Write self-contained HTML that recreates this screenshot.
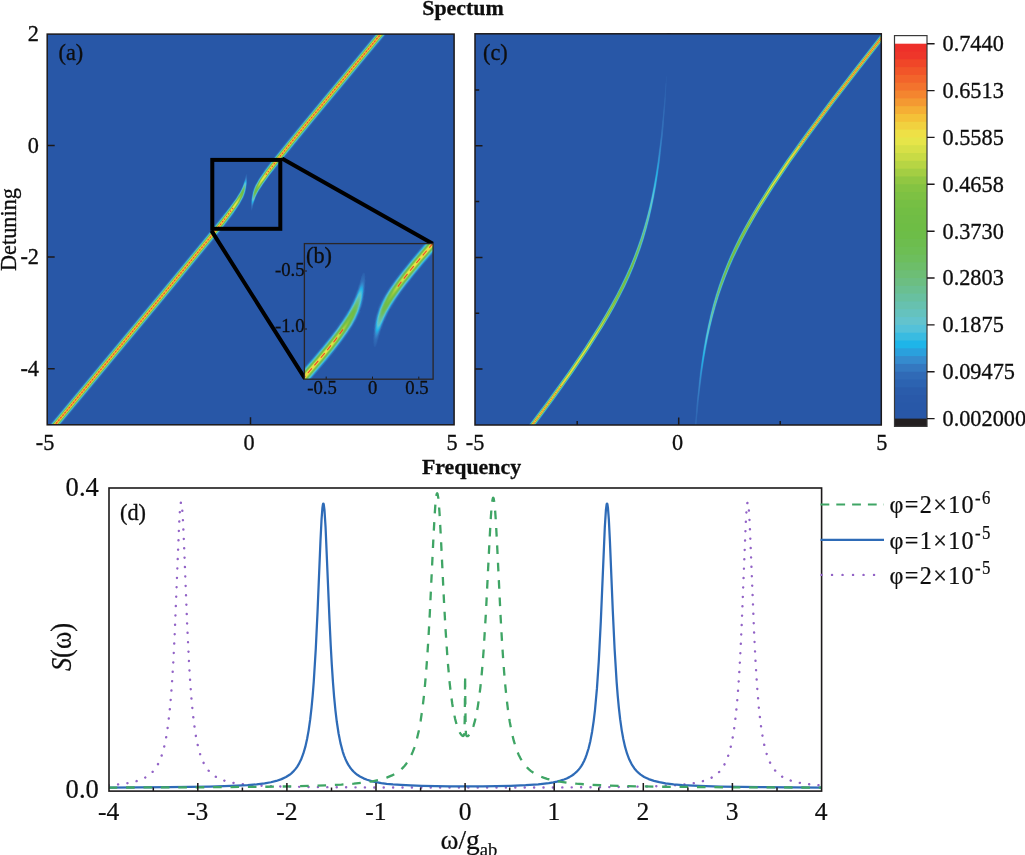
<!DOCTYPE html>
<html><head><meta charset="utf-8"><title>Spectum</title>
<style>html,body{margin:0;padding:0;background:#fff}svg{display:block}text{font-family:"Liberation Serif", "DejaVu Serif", serif;fill:#0e0e0e;stroke:#0e0e0e;stroke-width:.3px}.big{stroke-width:.22px}</style>
</head><body>
<svg width="1025" height="855" viewBox="0 0 1025 855">
<defs>
<clipPath id="ca"><rect x="47.2" y="34.1" width="406.9" height="390.7"/></clipPath>
<clipPath id="cc"><rect x="475" y="33.8" width="406.3" height="391.2"/></clipPath>
<clipPath id="ci"><rect x="304.4" y="243.6" width="128.7" height="135.6"/></clipPath>
<clipPath id="cd"><rect x="109" y="488" width="712.6" height="303.1"/></clipPath>
<linearGradient id="g2" x1="0" y1="0" x2="0" y2="1"><stop offset="0" stop-color="#2857a7"/><stop offset="0.457" stop-color="#2857a7"/><stop offset="0.461" stop-color="#2b5ead"/><stop offset="1" stop-color="#2b60ae"/></linearGradient>
<linearGradient id="g3" x1="0" y1="0" x2="0" y2="1"><stop offset="0" stop-color="#2857a7"/><stop offset="0.405" stop-color="#2857a7"/><stop offset="0.409" stop-color="#2b60ae"/><stop offset="0.477" stop-color="#3476bf"/><stop offset="1" stop-color="#357bc2"/></linearGradient>
<linearGradient id="g4" x1="0" y1="0" x2="0" y2="1"><stop offset="0" stop-color="#2857a7"/><stop offset="0.391" stop-color="#2857a7"/><stop offset="0.395" stop-color="#2c61b0"/><stop offset="0.409" stop-color="#3477c0"/><stop offset="0.417" stop-color="#358ccf"/><stop offset="0.437" stop-color="#21afe5"/><stop offset="0.447" stop-color="#21b6e8"/><stop offset="0.491" stop-color="#33bae3"/><stop offset="0.764" stop-color="#3abbe0"/><stop offset="1" stop-color="#3bbbe0"/></linearGradient>
<linearGradient id="g5" x1="0" y1="0" x2="0" y2="1"><stop offset="0" stop-color="#2857a7"/><stop offset="0.381" stop-color="#2857a7"/><stop offset="0.385" stop-color="#2c61af"/><stop offset="0.395" stop-color="#3374bd"/><stop offset="0.401" stop-color="#338fd1"/><stop offset="0.409" stop-color="#1fb5e9"/><stop offset="0.421" stop-color="#5ac2d7"/><stop offset="0.425" stop-color="#62c4d1"/><stop offset="0.449" stop-color="#66c2b5"/><stop offset="0.507" stop-color="#68c1a6"/><stop offset="1" stop-color="#68c1a1"/></linearGradient>
<linearGradient id="g6" x1="0" y1="0" x2="0" y2="1"><stop offset="0" stop-color="#2857a7"/><stop offset="0.375" stop-color="#2857a7"/><stop offset="0.379" stop-color="#2c62b1"/><stop offset="0.387" stop-color="#3375be"/><stop offset="0.391" stop-color="#358bce"/><stop offset="0.397" stop-color="#1eb3e8"/><stop offset="0.405" stop-color="#61c4d5"/><stop offset="0.421" stop-color="#6ac096"/><stop offset="0.435" stop-color="#6dbe77"/><stop offset="0.465" stop-color="#6dbe60"/><stop offset="0.545" stop-color="#6dbe57"/><stop offset="1" stop-color="#6dbe55"/></linearGradient>
<linearGradient id="g7" x1="0" y1="0" x2="0" y2="1"><stop offset="0" stop-color="#2857a7"/><stop offset="0.369" stop-color="#2857a7"/><stop offset="0.373" stop-color="#2c62b0"/><stop offset="0.379" stop-color="#326db8"/><stop offset="0.385" stop-color="#338fd1"/><stop offset="0.389" stop-color="#22aee5"/><stop offset="0.391" stop-color="#29b8e6"/><stop offset="0.395" stop-color="#54c1d9"/><stop offset="0.397" stop-color="#63c4d0"/><stop offset="0.411" stop-color="#6dbe7a"/><stop offset="0.421" stop-color="#6dbe56"/><stop offset="0.437" stop-color="#6ebd45"/><stop offset="0.607" stop-color="#78c043"/><stop offset="1" stop-color="#79c043"/></linearGradient>
<linearGradient id="g8" x1="0" y1="0" x2="0" y2="1"><stop offset="0" stop-color="#2857a7"/><stop offset="0.365" stop-color="#2857a7"/><stop offset="0.369" stop-color="#2c63b1"/><stop offset="0.375" stop-color="#326eb9"/><stop offset="0.379" stop-color="#3786ca"/><stop offset="0.385" stop-color="#1eb5e9"/><stop offset="0.391" stop-color="#62c4d3"/><stop offset="0.405" stop-color="#6dbe6b"/><stop offset="0.411" stop-color="#6dbe50"/><stop offset="0.417" stop-color="#6ebd45"/><stop offset="0.437" stop-color="#87c441"/><stop offset="0.457" stop-color="#b0d343"/><stop offset="0.485" stop-color="#c5da45"/><stop offset="0.597" stop-color="#d2df47"/><stop offset="1" stop-color="#d5e047"/></linearGradient>
<linearGradient id="g9" x1="0" y1="0" x2="0" y2="1"><stop offset="0" stop-color="#2857a7"/><stop offset="0.361" stop-color="#2857a7"/><stop offset="0.367" stop-color="#2d64b2"/><stop offset="0.373" stop-color="#3372bc"/><stop offset="0.377" stop-color="#358bce"/><stop offset="0.381" stop-color="#23ace4"/><stop offset="0.383" stop-color="#28b7e6"/><stop offset="0.387" stop-color="#5bc2d7"/><stop offset="0.391" stop-color="#65c2ba"/><stop offset="0.401" stop-color="#6dbe68"/><stop offset="0.405" stop-color="#6dbe52"/><stop offset="0.409" stop-color="#6dbd45"/><stop offset="0.419" stop-color="#7fc242"/><stop offset="0.425" stop-color="#9acb42"/><stop offset="0.433" stop-color="#c2d945"/><stop offset="0.449" stop-color="#e9e649"/><stop offset="0.493" stop-color="#f3c93c"/><stop offset="0.609" stop-color="#f5bb37"/><stop offset="1" stop-color="#f5b736"/></linearGradient>
<linearGradient id="g10" x1="0" y1="0" x2="0" y2="1"><stop offset="0" stop-color="#2857a7"/><stop offset="0.361" stop-color="#2857a7"/><stop offset="0.365" stop-color="#2c62b1"/><stop offset="0.371" stop-color="#326eb9"/><stop offset="0.375" stop-color="#3785ca"/><stop offset="0.381" stop-color="#20b6e8"/><stop offset="0.385" stop-color="#52c0da"/><stop offset="0.387" stop-color="#63c4cf"/><stop offset="0.401" stop-color="#6dbe5b"/><stop offset="0.407" stop-color="#6ebd45"/><stop offset="0.415" stop-color="#7ec142"/><stop offset="0.419" stop-color="#91c742"/><stop offset="0.427" stop-color="#c6db45"/><stop offset="0.437" stop-color="#ece84a"/><stop offset="0.455" stop-color="#f4c339"/><stop offset="0.485" stop-color="#f5a434"/><stop offset="0.555" stop-color="#f49231"/><stop offset="1" stop-color="#f48a30"/></linearGradient>
<linearGradient id="g12" x1="0" y1="0" x2="0" y2="1"><stop offset="0" stop-color="#2b60ae"/><stop offset="0.353" stop-color="#2b5ead"/><stop offset="0.357" stop-color="#2857a7"/><stop offset="1" stop-color="#2857a7"/></linearGradient>
<linearGradient id="g13" x1="0" y1="0" x2="0" y2="1"><stop offset="0" stop-color="#357bc2"/><stop offset="0.345" stop-color="#3375be"/><stop offset="0.407" stop-color="#2b5fad"/><stop offset="0.409" stop-color="#2857a7"/><stop offset="1" stop-color="#2857a7"/></linearGradient>
<linearGradient id="g14" x1="0" y1="0" x2="0" y2="1"><stop offset="0" stop-color="#3bbbe0"/><stop offset="0.317" stop-color="#34bae2"/><stop offset="0.365" stop-color="#22b6e7"/><stop offset="0.375" stop-color="#20b1e7"/><stop offset="0.395" stop-color="#3290d2"/><stop offset="0.403" stop-color="#357cc3"/><stop offset="0.415" stop-color="#2e65b3"/><stop offset="0.421" stop-color="#2b5fae"/><stop offset="0.423" stop-color="#2857a7"/><stop offset="1" stop-color="#2857a7"/></linearGradient>
<linearGradient id="g15" x1="0" y1="0" x2="0" y2="1"><stop offset="0" stop-color="#68c1a2"/><stop offset="0.327" stop-color="#67c1a8"/><stop offset="0.371" stop-color="#65c2ba"/><stop offset="0.391" stop-color="#61c4d5"/><stop offset="0.405" stop-color="#1db5e9"/><stop offset="0.415" stop-color="#3684c9"/><stop offset="0.423" stop-color="#2f69b5"/><stop offset="0.435" stop-color="#2857a7"/><stop offset="1" stop-color="#2857a7"/></linearGradient>
<linearGradient id="g16" x1="0" y1="0" x2="0" y2="1"><stop offset="0" stop-color="#6dbe55"/><stop offset="0.331" stop-color="#6dbe5b"/><stop offset="0.373" stop-color="#6dbe70"/><stop offset="0.389" stop-color="#6bbf8b"/><stop offset="0.405" stop-color="#64c3c4"/><stop offset="0.409" stop-color="#5fc3d6"/><stop offset="0.415" stop-color="#2ab8e5"/><stop offset="0.417" stop-color="#1fb2e7"/><stop offset="0.423" stop-color="#368acd"/><stop offset="0.429" stop-color="#316cb8"/><stop offset="0.437" stop-color="#2b60ae"/><stop offset="0.439" stop-color="#2857a7"/><stop offset="1" stop-color="#2857a7"/></linearGradient>
<linearGradient id="g17" x1="0" y1="0" x2="0" y2="1"><stop offset="0" stop-color="#79c043"/><stop offset="0.341" stop-color="#73be44"/><stop offset="0.383" stop-color="#6dbd49"/><stop offset="0.395" stop-color="#6dbe5b"/><stop offset="0.405" stop-color="#6cbf87"/><stop offset="0.417" stop-color="#62c4d2"/><stop offset="0.423" stop-color="#26b7e6"/><stop offset="0.425" stop-color="#23ace4"/><stop offset="0.429" stop-color="#348dd0"/><stop offset="0.435" stop-color="#316db8"/><stop offset="0.447" stop-color="#2857a7"/><stop offset="1" stop-color="#2857a7"/></linearGradient>
<linearGradient id="g18" x1="0" y1="0" x2="0" y2="1"><stop offset="0" stop-color="#d4e047"/><stop offset="0.293" stop-color="#cddd46"/><stop offset="0.345" stop-color="#bcd744"/><stop offset="0.367" stop-color="#9fcd42"/><stop offset="0.381" stop-color="#81c242"/><stop offset="0.397" stop-color="#6ebd45"/><stop offset="0.405" stop-color="#6dbe57"/><stop offset="0.413" stop-color="#6bbf88"/><stop offset="0.423" stop-color="#62c4d4"/><stop offset="0.429" stop-color="#1eb4e8"/><stop offset="0.435" stop-color="#3684c9"/><stop offset="0.439" stop-color="#326eb9"/><stop offset="0.447" stop-color="#2b60ae"/><stop offset="0.449" stop-color="#2857a7"/><stop offset="1" stop-color="#2857a7"/></linearGradient>
<linearGradient id="g19" x1="0" y1="0" x2="0" y2="1"><stop offset="0" stop-color="#f5b836"/><stop offset="0.287" stop-color="#f4c139"/><stop offset="0.343" stop-color="#f1d441"/><stop offset="0.363" stop-color="#ebe74a"/><stop offset="0.379" stop-color="#c8db45"/><stop offset="0.387" stop-color="#a5cf43"/><stop offset="0.393" stop-color="#84c341"/><stop offset="0.401" stop-color="#71be44"/><stop offset="0.405" stop-color="#6dbd45"/><stop offset="0.411" stop-color="#6dbe5c"/><stop offset="0.425" stop-color="#63c3cc"/><stop offset="0.427" stop-color="#58c2d8"/><stop offset="0.431" stop-color="#26b7e6"/><stop offset="0.433" stop-color="#24a9e2"/><stop offset="0.437" stop-color="#3689cd"/><stop offset="0.441" stop-color="#3371bb"/><stop offset="0.455" stop-color="#2857a7"/><stop offset="1" stop-color="#2857a7"/></linearGradient>
<linearGradient id="g20" x1="0" y1="0" x2="0" y2="1"><stop offset="0" stop-color="#f48b30"/><stop offset="0.271" stop-color="#f49331"/><stop offset="0.333" stop-color="#f5a734"/><stop offset="0.363" stop-color="#f3ca3c"/><stop offset="0.377" stop-color="#ebe74a"/><stop offset="0.389" stop-color="#bbd744"/><stop offset="0.397" stop-color="#84c341"/><stop offset="0.403" stop-color="#72be44"/><stop offset="0.409" stop-color="#6dbd4b"/><stop offset="0.413" stop-color="#6dbe5c"/><stop offset="0.427" stop-color="#63c4d1"/><stop offset="0.433" stop-color="#1db5e9"/><stop offset="0.439" stop-color="#3684c9"/><stop offset="0.443" stop-color="#326db9"/><stop offset="0.451" stop-color="#2b60ae"/><stop offset="0.453" stop-color="#2857a7"/><stop offset="1" stop-color="#2857a7"/></linearGradient>
<linearGradient id="g23" x1="0" y1="0" x2="0" y2="1"><stop offset="0" stop-color="#2857a7"/><stop offset="0.494" stop-color="#2857a7"/><stop offset="0.499" stop-color="#2b5ead"/><stop offset="0.787" stop-color="#316db8"/><stop offset="1" stop-color="#3270ba"/></linearGradient>
<linearGradient id="g24" x1="0" y1="0" x2="0" y2="1"><stop offset="0" stop-color="#2857a7"/><stop offset="0.411" stop-color="#2857a7"/><stop offset="0.416" stop-color="#2b5fad"/><stop offset="0.511" stop-color="#3375be"/><stop offset="0.581" stop-color="#3390d2"/><stop offset="0.729" stop-color="#22ade4"/><stop offset="0.925" stop-color="#20b6e8"/><stop offset="1" stop-color="#23b6e7"/></linearGradient>
<linearGradient id="g25" x1="0" y1="0" x2="0" y2="1"><stop offset="0" stop-color="#2857a7"/><stop offset="0.358" stop-color="#2857a7"/><stop offset="0.363" stop-color="#2b5ead"/><stop offset="0.431" stop-color="#3373bc"/><stop offset="0.469" stop-color="#3390d2"/><stop offset="0.516" stop-color="#1eb5e9"/><stop offset="0.591" stop-color="#56c1d9"/><stop offset="0.627" stop-color="#62c4d2"/><stop offset="0.797" stop-color="#65c2bc"/><stop offset="1" stop-color="#66c2b5"/></linearGradient>
<linearGradient id="g26" x1="0" y1="0" x2="0" y2="1"><stop offset="0" stop-color="#2857a7"/><stop offset="0.321" stop-color="#2857a7"/><stop offset="0.326" stop-color="#2b5fad"/><stop offset="0.383" stop-color="#3373bc"/><stop offset="0.414" stop-color="#3390d2"/><stop offset="0.446" stop-color="#1eb5e9"/><stop offset="0.494" stop-color="#62c4d4"/><stop offset="0.586" stop-color="#69c09b"/><stop offset="0.697" stop-color="#6dbe7a"/><stop offset="0.967" stop-color="#6dbe69"/><stop offset="1" stop-color="#6dbe68"/></linearGradient>
<linearGradient id="g27" x1="0" y1="0" x2="0" y2="1"><stop offset="0" stop-color="#2857a7"/><stop offset="0.288" stop-color="#2857a7"/><stop offset="0.293" stop-color="#2b5fad"/><stop offset="0.348" stop-color="#3372bc"/><stop offset="0.373" stop-color="#348dcf"/><stop offset="0.404" stop-color="#1eb5e9"/><stop offset="0.441" stop-color="#62c4d3"/><stop offset="0.534" stop-color="#6dbe77"/><stop offset="0.602" stop-color="#6dbe55"/><stop offset="0.747" stop-color="#6ebd45"/><stop offset="1" stop-color="#70be44"/></linearGradient>
<linearGradient id="g28" x1="0" y1="0" x2="0" y2="1"><stop offset="0" stop-color="#2857a7"/><stop offset="0.263" stop-color="#2857a7"/><stop offset="0.268" stop-color="#2b5fad"/><stop offset="0.323" stop-color="#3372bc"/><stop offset="0.348" stop-color="#338ed1"/><stop offset="0.376" stop-color="#20b6e8"/><stop offset="0.409" stop-color="#62c4d4"/><stop offset="0.489" stop-color="#6dbe6e"/><stop offset="0.524" stop-color="#6dbe53"/><stop offset="0.569" stop-color="#6ebd45"/><stop offset="0.932" stop-color="#9fcd42"/><stop offset="1" stop-color="#a3ce43"/></linearGradient>
<linearGradient id="g29" x1="0" y1="0" x2="0" y2="1"><stop offset="0" stop-color="#2857a7"/><stop offset="0.248" stop-color="#2857a7"/><stop offset="0.253" stop-color="#2b5fad"/><stop offset="0.308" stop-color="#3372bc"/><stop offset="0.333" stop-color="#338fd1"/><stop offset="0.358" stop-color="#1db5e9"/><stop offset="0.391" stop-color="#62c4d3"/><stop offset="0.471" stop-color="#6dbe64"/><stop offset="0.496" stop-color="#6dbe4f"/><stop offset="0.529" stop-color="#6fbd45"/><stop offset="0.607" stop-color="#87c441"/><stop offset="0.677" stop-color="#b7d544"/><stop offset="0.777" stop-color="#d4df47"/><stop offset="1" stop-color="#e9e749"/></linearGradient>
<linearGradient id="g30" x1="0" y1="0" x2="0" y2="1"><stop offset="0" stop-color="#2857a7"/><stop offset="0.243" stop-color="#2857a7"/><stop offset="0.248" stop-color="#2b5fad"/><stop offset="0.301" stop-color="#3371bb"/><stop offset="0.326" stop-color="#338ed0"/><stop offset="0.351" stop-color="#1db4e9"/><stop offset="0.383" stop-color="#62c4d3"/><stop offset="0.464" stop-color="#6dbe5f"/><stop offset="0.504" stop-color="#6ebd45"/><stop offset="0.549" stop-color="#7bc043"/><stop offset="0.581" stop-color="#8ec641"/><stop offset="0.639" stop-color="#c2d945"/><stop offset="0.742" stop-color="#eae74a"/><stop offset="0.987" stop-color="#f2cd3e"/><stop offset="1" stop-color="#f2cc3d"/></linearGradient>
<linearGradient id="g33" x1="0" y1="0" x2="0" y2="1"><stop offset="0" stop-color="#3270ba"/><stop offset="0.414" stop-color="#2d64b2"/><stop offset="0.479" stop-color="#2b5ead"/><stop offset="0.484" stop-color="#2857a7"/><stop offset="1" stop-color="#2857a7"/></linearGradient>
<linearGradient id="g34" x1="0" y1="0" x2="0" y2="1"><stop offset="0" stop-color="#22b6e8"/><stop offset="0.218" stop-color="#20afe6"/><stop offset="0.361" stop-color="#2e99d9"/><stop offset="0.441" stop-color="#357fc5"/><stop offset="0.506" stop-color="#2f68b5"/><stop offset="0.561" stop-color="#2b5ead"/><stop offset="0.566" stop-color="#2857a7"/><stop offset="1" stop-color="#2857a7"/></linearGradient>
<linearGradient id="g35" x1="0" y1="0" x2="0" y2="1"><stop offset="0" stop-color="#66c2b6"/><stop offset="0.271" stop-color="#64c3c4"/><stop offset="0.368" stop-color="#5ec3d6"/><stop offset="0.449" stop-color="#28b7e6"/><stop offset="0.464" stop-color="#1eb3e8"/><stop offset="0.526" stop-color="#3680c6"/><stop offset="0.564" stop-color="#306ab6"/><stop offset="0.614" stop-color="#2b5ead"/><stop offset="0.619" stop-color="#2857a7"/><stop offset="1" stop-color="#2857a7"/></linearGradient>
<linearGradient id="g36" x1="0" y1="0" x2="0" y2="1"><stop offset="0" stop-color="#6dbe69"/><stop offset="0.263" stop-color="#6dbe78"/><stop offset="0.376" stop-color="#6ac096"/><stop offset="0.464" stop-color="#64c3c7"/><stop offset="0.486" stop-color="#5dc3d6"/><stop offset="0.531" stop-color="#1eb4e8"/><stop offset="0.574" stop-color="#3683c8"/><stop offset="0.604" stop-color="#316cb7"/><stop offset="0.654" stop-color="#2b5ead"/><stop offset="0.659" stop-color="#2857a7"/><stop offset="1" stop-color="#2857a7"/></linearGradient>
<linearGradient id="g37" x1="0" y1="0" x2="0" y2="1"><stop offset="0" stop-color="#70be44"/><stop offset="0.298" stop-color="#6dbd49"/><stop offset="0.398" stop-color="#6dbe5e"/><stop offset="0.461" stop-color="#6bbf88"/><stop offset="0.536" stop-color="#61c4d5"/><stop offset="0.574" stop-color="#1eb3e8"/><stop offset="0.609" stop-color="#3785c9"/><stop offset="0.639" stop-color="#316bb7"/><stop offset="0.684" stop-color="#2b5ead"/><stop offset="0.689" stop-color="#2857a7"/><stop offset="1" stop-color="#2857a7"/></linearGradient>
<linearGradient id="g38" x1="0" y1="0" x2="0" y2="1"><stop offset="0" stop-color="#a2ce42"/><stop offset="0.198" stop-color="#8cc641"/><stop offset="0.426" stop-color="#6dbd48"/><stop offset="0.471" stop-color="#6dbe5f"/><stop offset="0.524" stop-color="#69c09b"/><stop offset="0.569" stop-color="#60c4d6"/><stop offset="0.602" stop-color="#1eb4e8"/><stop offset="0.634" stop-color="#3786ca"/><stop offset="0.662" stop-color="#316cb8"/><stop offset="0.709" stop-color="#2b5ead"/><stop offset="0.714" stop-color="#2857a7"/><stop offset="1" stop-color="#2857a7"/></linearGradient>
<linearGradient id="g39" x1="0" y1="0" x2="0" y2="1"><stop offset="0" stop-color="#e8e649"/><stop offset="0.208" stop-color="#d2df47"/><stop offset="0.303" stop-color="#b5d543"/><stop offset="0.378" stop-color="#84c341"/><stop offset="0.446" stop-color="#6fbd45"/><stop offset="0.481" stop-color="#6dbe50"/><stop offset="0.511" stop-color="#6dbe6c"/><stop offset="0.586" stop-color="#61c4d5"/><stop offset="0.617" stop-color="#1eb5e9"/><stop offset="0.649" stop-color="#3786ca"/><stop offset="0.677" stop-color="#316cb8"/><stop offset="0.724" stop-color="#2b5ead"/><stop offset="0.729" stop-color="#2857a7"/><stop offset="1" stop-color="#2857a7"/></linearGradient>
<linearGradient id="g40" x1="0" y1="0" x2="0" y2="1"><stop offset="0" stop-color="#f2ce3e"/><stop offset="0.195" stop-color="#eee348"/><stop offset="0.248" stop-color="#e6e649"/><stop offset="0.338" stop-color="#c1d944"/><stop offset="0.396" stop-color="#8bc641"/><stop offset="0.456" stop-color="#70be44"/><stop offset="0.489" stop-color="#6dbd4d"/><stop offset="0.519" stop-color="#6dbe68"/><stop offset="0.594" stop-color="#61c4d5"/><stop offset="0.624" stop-color="#1db5e9"/><stop offset="0.657" stop-color="#3785ca"/><stop offset="0.684" stop-color="#316cb7"/><stop offset="0.732" stop-color="#2b5ead"/><stop offset="0.737" stop-color="#2857a7"/><stop offset="1" stop-color="#2857a7"/></linearGradient>
<linearGradient id="g42" x1="0" y1="0" x2="0" y2="1"><stop offset="0" stop-color="#2857a7"/><stop offset="0.886" stop-color="#2857a7"/><stop offset="0.89" stop-color="#2b5ead"/><stop offset="1" stop-color="#2b5fae"/></linearGradient>
<linearGradient id="g43" x1="0" y1="0" x2="0" y2="1"><stop offset="0" stop-color="#2857a7"/><stop offset="0.581" stop-color="#2857a7"/><stop offset="0.585" stop-color="#2b5ead"/><stop offset="1" stop-color="#3479c1"/></linearGradient>
<linearGradient id="g44" x1="0" y1="0" x2="0" y2="1"><stop offset="0" stop-color="#2857a7"/><stop offset="0.463" stop-color="#2857a7"/><stop offset="0.467" stop-color="#2b5ead"/><stop offset="0.603" stop-color="#3375be"/><stop offset="0.679" stop-color="#3390d2"/><stop offset="0.826" stop-color="#1eb5e9"/><stop offset="1" stop-color="#36bae2"/></linearGradient>
<linearGradient id="g45" x1="0" y1="0" x2="0" y2="1"><stop offset="0" stop-color="#2857a7"/><stop offset="0.375" stop-color="#2857a7"/><stop offset="0.379" stop-color="#2b5ead"/><stop offset="0.493" stop-color="#3373bd"/><stop offset="0.547" stop-color="#3390d2"/><stop offset="0.609" stop-color="#1fb5e8"/><stop offset="0.711" stop-color="#62c4d4"/><stop offset="0.87" stop-color="#66c2b2"/><stop offset="1" stop-color="#68c1a5"/></linearGradient>
<linearGradient id="g46" x1="0" y1="0" x2="0" y2="1"><stop offset="0" stop-color="#2857a7"/><stop offset="0.297" stop-color="#2857a7"/><stop offset="0.301" stop-color="#2b5ead"/><stop offset="0.417" stop-color="#3373bd"/><stop offset="0.465" stop-color="#3390d1"/><stop offset="0.515" stop-color="#1eb5e9"/><stop offset="0.581" stop-color="#62c4d4"/><stop offset="0.721" stop-color="#6bbf8a"/><stop offset="0.834" stop-color="#6dbe6b"/><stop offset="1" stop-color="#6dbe57"/></linearGradient>
<linearGradient id="g47" x1="0" y1="0" x2="0" y2="1"><stop offset="0" stop-color="#2857a7"/><stop offset="0.228" stop-color="#2857a7"/><stop offset="0.232" stop-color="#2b5ead"/><stop offset="0.351" stop-color="#3372bc"/><stop offset="0.401" stop-color="#338fd1"/><stop offset="0.451" stop-color="#20b6e8"/><stop offset="0.507" stop-color="#62c4d4"/><stop offset="0.645" stop-color="#6dbe6e"/><stop offset="0.709" stop-color="#6dbe52"/><stop offset="0.804" stop-color="#6ebd45"/><stop offset="1" stop-color="#76bf44"/></linearGradient>
<linearGradient id="g48" x1="0" y1="0" x2="0" y2="1"><stop offset="0" stop-color="#2857a7"/><stop offset="0.172" stop-color="#2857a7"/><stop offset="0.176" stop-color="#2b5ead"/><stop offset="0.303" stop-color="#3372bc"/><stop offset="0.353" stop-color="#338fd1"/><stop offset="0.403" stop-color="#20b6e8"/><stop offset="0.457" stop-color="#62c4d4"/><stop offset="0.601" stop-color="#6dbe59"/><stop offset="0.667" stop-color="#6ebd45"/><stop offset="0.756" stop-color="#7ec142"/><stop offset="0.812" stop-color="#91c842"/><stop offset="0.922" stop-color="#bed844"/><stop offset="1" stop-color="#ccdd46"/></linearGradient>
<linearGradient id="g49" x1="0" y1="0" x2="0" y2="1"><stop offset="0" stop-color="#2857a7"/><stop offset="0.136" stop-color="#2857a7"/><stop offset="0.14" stop-color="#2b5ead"/><stop offset="0.271" stop-color="#3372bc"/><stop offset="0.323" stop-color="#338fd1"/><stop offset="0.373" stop-color="#1fb6e8"/><stop offset="0.429" stop-color="#62c4d3"/><stop offset="0.567" stop-color="#6dbe57"/><stop offset="0.617" stop-color="#6ebd45"/><stop offset="0.675" stop-color="#7dc143"/><stop offset="0.709" stop-color="#8fc741"/><stop offset="0.774" stop-color="#c5da45"/><stop offset="0.864" stop-color="#ede749"/><stop offset="0.998" stop-color="#f4c339"/><stop offset="1" stop-color="#f4c339"/></linearGradient>
<linearGradient id="g50" x1="0" y1="0" x2="0" y2="1"><stop offset="0" stop-color="#2857a7"/><stop offset="0.118" stop-color="#2857a7"/><stop offset="0.122" stop-color="#2b5ead"/><stop offset="0.257" stop-color="#3372bc"/><stop offset="0.309" stop-color="#338fd1"/><stop offset="0.359" stop-color="#1eb5e9"/><stop offset="0.415" stop-color="#62c4d3"/><stop offset="0.511" stop-color="#6dbe79"/><stop offset="0.561" stop-color="#6dbe52"/><stop offset="0.601" stop-color="#6fbd45"/><stop offset="0.651" stop-color="#7dc142"/><stop offset="0.679" stop-color="#8ec741"/><stop offset="0.735" stop-color="#c8db45"/><stop offset="0.798" stop-color="#ede649"/><stop offset="0.92" stop-color="#f5b035"/><stop offset="1" stop-color="#f49832"/></linearGradient>
<linearGradient id="g52" x1="0" y1="0" x2="0" y2="1"><stop offset="0" stop-color="#2b60ae"/><stop offset="0.295" stop-color="#2b5ead"/><stop offset="0.299" stop-color="#2857a7"/><stop offset="1" stop-color="#2857a7"/></linearGradient>
<linearGradient id="g53" x1="0" y1="0" x2="0" y2="1"><stop offset="0" stop-color="#357dc4"/><stop offset="0.365" stop-color="#326eb9"/><stop offset="0.599" stop-color="#2b5ead"/><stop offset="0.603" stop-color="#2857a7"/><stop offset="1" stop-color="#2857a7"/></linearGradient>
<linearGradient id="g54" x1="0" y1="0" x2="0" y2="1"><stop offset="0" stop-color="#40bddf"/><stop offset="0.271" stop-color="#2db8e4"/><stop offset="0.373" stop-color="#1eb3e8"/><stop offset="0.525" stop-color="#3688cc"/><stop offset="0.623" stop-color="#306ab6"/><stop offset="0.717" stop-color="#2b5ead"/><stop offset="0.721" stop-color="#2857a7"/><stop offset="1" stop-color="#2857a7"/></linearGradient>
<linearGradient id="g55" x1="0" y1="0" x2="0" y2="1"><stop offset="0" stop-color="#69c09d"/><stop offset="0.293" stop-color="#67c1af"/><stop offset="0.457" stop-color="#63c4d0"/><stop offset="0.489" stop-color="#59c2d8"/><stop offset="0.579" stop-color="#1eb3e8"/><stop offset="0.657" stop-color="#3683c8"/><stop offset="0.715" stop-color="#306bb7"/><stop offset="0.806" stop-color="#2b5ead"/><stop offset="0.81" stop-color="#2857a7"/><stop offset="1" stop-color="#2857a7"/></linearGradient>
<linearGradient id="g56" x1="0" y1="0" x2="0" y2="1"><stop offset="0" stop-color="#6dbe53"/><stop offset="0.263" stop-color="#6dbe5e"/><stop offset="0.425" stop-color="#6dbe7d"/><stop offset="0.547" stop-color="#66c2b4"/><stop offset="0.607" stop-color="#5ec3d6"/><stop offset="0.669" stop-color="#1db4e9"/><stop offset="0.733" stop-color="#3785ca"/><stop offset="0.79" stop-color="#316bb7"/><stop offset="0.884" stop-color="#2b5ead"/><stop offset="0.888" stop-color="#2857a7"/><stop offset="1" stop-color="#2857a7"/></linearGradient>
<linearGradient id="g57" x1="0" y1="0" x2="0" y2="1"><stop offset="0" stop-color="#7dc142"/><stop offset="0.429" stop-color="#6dbd49"/><stop offset="0.511" stop-color="#6dbe60"/><stop offset="0.587" stop-color="#6abf90"/><stop offset="0.679" stop-color="#5fc3d6"/><stop offset="0.735" stop-color="#1eb4e8"/><stop offset="0.798" stop-color="#3684c9"/><stop offset="0.854" stop-color="#316bb7"/><stop offset="0.952" stop-color="#2b5ead"/><stop offset="0.956" stop-color="#2857a7"/><stop offset="1" stop-color="#2857a7"/></linearGradient>
<linearGradient id="g58" x1="0" y1="0" x2="0" y2="1"><stop offset="0" stop-color="#dfe348"/><stop offset="0.226" stop-color="#c5da45"/><stop offset="0.337" stop-color="#a2ce42"/><stop offset="0.403" stop-color="#84c341"/><stop offset="0.501" stop-color="#70bd45"/><stop offset="0.547" stop-color="#6dbd4c"/><stop offset="0.595" stop-color="#6dbe64"/><stop offset="0.729" stop-color="#5fc3d6"/><stop offset="0.784" stop-color="#1eb4e8"/><stop offset="0.846" stop-color="#3785c9"/><stop offset="0.9" stop-color="#316cb8"/><stop offset="1" stop-color="#2b5fad"/></linearGradient>
<linearGradient id="g59" x1="0" y1="0" x2="0" y2="1"><stop offset="0" stop-color="#f5a834"/><stop offset="0.228" stop-color="#f2cc3d"/><stop offset="0.333" stop-color="#e9e74a"/><stop offset="0.427" stop-color="#b9d644"/><stop offset="0.489" stop-color="#84c341"/><stop offset="0.551" stop-color="#70be44"/><stop offset="0.591" stop-color="#6dbd4c"/><stop offset="0.631" stop-color="#6dbe63"/><stop offset="0.758" stop-color="#61c4d5"/><stop offset="0.812" stop-color="#1db5e9"/><stop offset="0.876" stop-color="#3785c9"/><stop offset="0.932" stop-color="#316cb8"/><stop offset="1" stop-color="#2c62b0"/></linearGradient>
<linearGradient id="g60" x1="0" y1="0" x2="0" y2="1"><stop offset="0" stop-color="#f47a2e"/><stop offset="0.188" stop-color="#f49932"/><stop offset="0.333" stop-color="#f2cc3d"/><stop offset="0.395" stop-color="#eae74a"/><stop offset="0.469" stop-color="#b5d543"/><stop offset="0.515" stop-color="#84c341"/><stop offset="0.573" stop-color="#70be44"/><stop offset="0.613" stop-color="#6dbd4e"/><stop offset="0.649" stop-color="#6dbe66"/><stop offset="0.772" stop-color="#5fc3d6"/><stop offset="0.826" stop-color="#1db4e9"/><stop offset="0.888" stop-color="#3786ca"/><stop offset="0.946" stop-color="#316cb8"/><stop offset="1" stop-color="#2d64b2"/></linearGradient>
</defs>
<rect x="47.2" y="34.1" width="406.9" height="390.7" fill="#2857a7" stroke="none" stroke-width="0"/>
<g clip-path="url(#ca)">
<polygon fill="url(#g2)" points="246.7,28.1 246.3,116.9 246,141.1 245.5,157.2 244.8,168.5 243.6,177.4 242.1,183.9 240.9,187.1 239.5,190.3 235.7,196.8 229.5,205.6 220.1,217.7 206.5,234.7 156,296 44.1,430.8 56,430.8 164.5,300.1 212.9,241.2 225.8,225 234.4,213.7 240.5,204.8 244.1,198.4 245.5,195.2 246.6,191.9 248,185.5 249,176.6 249.7,164.5 250.2,146.7 250.5,120.9 250.9,28.1"/>
<polygon fill="url(#g3)" points="247.1,28.1 246.7,116.9 246.3,141.1 245.8,158 245.1,169.3 243.9,178.2 242.3,184.7 241.2,187.9 239.7,191.1 236,197.6 229.7,206.5 220.4,218.6 206.8,235.5 156.3,296.8 45.1,430.8 55,430.8 163.5,300.1 212,241.2 224.9,225 233.5,213.7 239.7,204.8 243.4,198.4 244.8,195.2 246,191.9 247.5,185.5 248.6,176.6 249.3,164.5 249.8,146.7 250.2,121.7 250.5,28.1"/>
<polygon fill="url(#g4)" points="247.3,28.1 246.9,117.7 246.6,141.9 246.1,158.8 245.3,170.1 244.1,179 242.5,185.5 241.3,188.7 239.8,191.9 236.1,198.4 229.9,207.3 220.5,219.4 206.9,236.3 157.1,296.8 45.9,430.8 54.2,430.8 163.4,299.3 211.9,240.3 224.8,224.2 233.4,212.9 239.5,204 243.1,197.6 244.6,194.3 245.7,191.1 247.2,184.7 248.3,175.8 249.1,163.7 249.6,145.9 249.9,120.9 250.3,28.1"/>
<polygon fill="url(#g5)" points="247.6,28.1 247.2,117.7 246.8,141.9 246.3,158.8 245.6,170.1 244.4,179 242.8,185.5 241.7,188.7 240.3,191.9 236.6,198.4 230.4,207.3 221.8,218.6 208.2,235.5 158.4,296 46.5,430.8 53.6,430.8 163.4,298.4 211.9,239.5 224.8,223.4 233.4,212.1 239.4,203.2 243,196.8 244.4,193.5 245.5,190.3 247,183.9 248.1,175 248.9,162.9 249.3,145.1 249.7,120.1 250,28.1"/>
<polygon fill="url(#g6)" points="247.8,28.1 247.4,118.5 247.1,142.7 246.5,159.6 245.8,170.9 244.6,179.8 242.9,186.3 241.8,189.5 240.3,192.7 236.6,199.2 230.4,208.1 221.8,219.4 208.2,236.3 158.4,296.8 47.2,430.8 52.9,430.8 162.8,298.4 211.2,239.5 224.1,223.4 232.8,212.1 238.9,203.2 242.5,196.8 244,193.5 245.1,190.3 246.7,183.9 247.8,175 248.6,162.9 249.1,145.9 249.4,120.9 249.8,28.1"/>
<polygon fill="url(#g7)" points="248,28.1 247.6,118.5 247.3,142.7 246.7,159.6 246,170.9 244.8,179.8 243.3,186.3 242.1,189.5 240.7,192.7 237,199.2 230.9,208.1 222.3,219.4 208.7,236.3 159,296.8 47.7,430.8 52.4,430.8 161.6,299.3 210.7,239.5 223.6,223.4 232.2,212.1 238.4,203.2 242.1,196.8 243.6,193.5 244.8,190.3 246.4,183.9 247.6,175 248.4,162.9 248.9,145.9 249.2,120.9 249.6,28.1"/>
<polygon fill="url(#g8)" points="248.2,28.1 247.8,119.3 247.4,143.5 246.9,160.5 246.2,171.7 245,180.6 243.3,187.1 242.1,190.3 240.7,193.5 237,200 230.8,208.9 222.2,220.2 208.6,237.1 158.8,297.6 48.3,430.8 51.8,430.8 161.7,298.4 210.8,238.7 223.7,222.6 232.3,211.3 238.4,202.4 242.1,196 243.5,192.7 244.7,189.5 246.3,183 247.4,174.2 248.2,162.1 248.7,145.1 249,120.1 249.4,28.1"/>
<polygon fill="url(#g9)" points="248.4,28.1 248,119.3 247.7,143.5 247.1,160.5 246.4,171.7 245.2,180.6 243.6,187.1 242.5,190.3 241.1,193.5 237.4,200 231.4,208.9 222.7,220.2 209.8,236.3 160.7,296 48.8,430.8 51.2,430.8 161.1,298.4 210.2,238.7 223.2,222.6 231.8,211.3 237.9,202.4 241.6,196 243.1,192.7 244.3,189.5 246,183 247.2,174.2 248,162.1 248.5,145.1 248.8,120.1 249.2,28.1"/>
<polygon fill="url(#g10)" points="248.6,28.1 248.2,119.3 247.9,143.5 247.4,160.5 246.6,172.6 245.4,181.4 243.7,187.9 242.5,191.1 241.1,194.3 237.4,200.8 231.3,209.7 222.7,221 209.1,237.9 160,297.6 49.4,430.8 50.7,430.8 161.2,297.6 210.3,237.9 223.3,221.8 231.9,210.5 238,201.6 241.6,195.2 243.1,191.9 244.2,188.7 245.8,182.2 247,173.4 247.8,161.3 248.3,144.3 248.6,119.3 249,28.1"/>
<path d="M233 208.1L227 216.1L218.8 226.6L192.6 258.9L143.2 318.6L50 430.8" fill="none" stroke="#ee4a2a" stroke-width="1.3" stroke-dasharray="1.2 2.1"/>
<polygon fill="url(#g12)" points="379.8,28.1 306.3,116.9 286.5,141.1 273.6,157.2 264.9,168.5 258.6,177.4 254.8,183.9 253.3,187.1 252,190.3 250.4,196.8 249.3,205.6 248.5,217.7 248,234.7 247.5,296 247.2,430.8 251.4,430.8 251.7,300.1 252.3,241.2 252.8,225 253.6,213.7 254.9,204.8 256.6,198.4 257.9,195.2 259.5,191.9 263.5,185.5 269.9,176.6 279.3,164.5 314.7,120.9 391.6,28.1"/>
<polygon fill="url(#g13)" points="380.8,28.1 307.3,116.9 287.4,141.1 273.9,158 265.2,169.3 259,178.2 255.2,184.7 253.7,187.9 252.4,191.1 250.8,197.6 249.6,206.5 248.9,218.6 248.4,235.5 247.8,296.8 247.6,430.8 251,430.8 251.3,300.1 251.9,241.2 252.4,225 253.2,213.7 254.4,204.8 256.1,198.4 257.3,195.2 258.9,191.9 262.7,185.5 269,176.6 278.3,164.5 292.6,146.7 313.1,121.7 390.7,28.1"/>
<polygon fill="url(#g14)" points="381.6,28.1 307.4,117.7 287.6,141.9 274,158.8 265.4,170.1 259.2,179 255.4,185.5 253.9,188.7 252.7,191.9 251.1,198.4 249.9,207.3 249.2,219.4 248.7,236.3 248.1,296.8 247.9,430.8 250.8,430.8 251,299.3 251.6,240.3 252.2,224.2 252.9,212.9 254.2,204 255.9,197.6 257.2,194.3 258.7,191.1 262.6,184.7 268.9,175.8 278.2,163.7 292.5,145.9 313,120.9 389.9,28.1"/>
<polygon fill="url(#g15)" points="382.2,28.1 308,117.7 288.2,141.9 274.6,158.8 266,170.1 259.7,179 255.9,185.5 254.4,188.7 253.2,191.9 251.5,198.4 250.2,207.3 249.5,218.6 248.9,235.5 248.3,296 248.1,430.8 250.5,430.8 250.8,298.4 251.4,239.5 251.9,223.4 252.8,212.1 254.1,203.2 255.9,196.8 257.2,193.5 258.7,190.3 262.6,183.9 268.9,175 278.2,162.9 292.5,145.1 313,120.1 389.2,28.1"/>
<polygon fill="url(#g16)" points="382.8,28.1 308,118.5 288.2,142.7 274.6,159.6 266,170.9 259.8,179.8 256,186.3 254.5,189.5 253.3,192.7 251.6,199.2 250.4,208.1 249.7,219.4 249.1,236.3 248.6,296.8 248.3,430.8 250.3,430.8 250.6,298.4 251.2,239.5 251.7,223.4 252.5,212.1 253.8,203.2 255.5,196.8 256.7,193.5 258.3,190.3 262.1,183.9 268.3,175 277.6,162.9 291.2,145.9 311.7,120.9 388.6,28.1"/>
<polygon fill="url(#g17)" points="383.4,28.1 308.6,118.5 288.7,142.7 275.2,159.6 266.5,170.9 260.3,179.8 256.5,186.3 254.9,189.5 253.7,192.7 251.9,199.2 250.7,208.1 249.9,219.4 249.3,236.3 248.8,296.8 248.5,430.8 250.1,430.8 250.4,299.3 251,239.5 251.5,223.4 252.3,212.1 253.5,203.2 255.2,196.8 256.4,193.5 257.9,190.3 261.6,183.9 267.8,175 277.1,162.9 290.7,145.9 311.2,120.9 388,28.1"/>
<polygon fill="url(#g18)" points="384,28.1 308.4,119.3 288.6,143.5 275.1,160.5 266.4,171.7 260.2,180.6 256.5,187.1 255,190.3 253.8,193.5 252.1,200 250.8,208.9 250.1,220.2 249.5,237.1 248.9,297.6 248.7,430.8 249.9,430.8 250.2,298.4 250.8,238.7 251.3,222.6 252.1,211.3 253.4,202.4 255.1,196 256.4,192.7 257.9,189.5 261.7,183 267.9,174.2 277.2,162.1 290.8,145.1 311.3,120.1 387.5,28.1"/>
<polygon fill="url(#g19)" points="384.5,28.1 309,119.3 289.2,143.5 275.6,160.5 266.9,171.7 260.7,180.6 256.9,187.1 255.4,190.3 254.1,193.5 252.4,200 251.1,208.9 250.3,220.2 249.8,236.3 249.2,296 248.9,430.8 249.7,430.8 250,298.4 250.6,238.7 251.1,222.6 251.9,211.3 253.1,202.4 254.8,196 256,192.7 257.5,189.5 261.2,183 267.4,174.2 276.6,162.1 290.2,145.1 310.7,120.1 386.9,28.1"/>
<polygon fill="url(#g20)" points="385.1,28.1 309.6,119.3 289.7,143.5 276.1,160.5 266.9,172.6 260.7,181.4 256.9,187.9 255.4,191.1 254.2,194.3 252.5,200.8 251.2,209.7 250.5,221 249.9,237.9 249.3,297.6 249.1,430.8 249.5,430.8 249.8,297.6 250.4,237.9 250.9,221.8 251.7,210.5 253,201.6 254.7,195.2 256,191.9 257.5,188.7 261.2,182.2 267.4,173.4 276.7,161.3 290.3,144.3 310.8,119.3 386.4,28.1"/>
<path d="M385.7 28.1L328.8 96.7L295.6 137L276.1 161.3L269.9 169.3L265.1 175.8" fill="none" stroke="#ee4a2a" stroke-width="1.3" stroke-dasharray="1.2 2.1"/>
</g>
<path d="M47.2 145.4h7.5M47.2 257.1h7.5M47.2 368.8h7.5M250.5 424.8v-7.5" stroke="#1c191a" stroke-width="1.5" fill="none"/>
<rect x="47.2" y="34.1" width="406.9" height="390.7" fill="none" stroke="#1c191a" stroke-width="1.5"/>
<text transform="translate(39 40.8) scale(1 1.075)" font-size="22.3" text-anchor="end">2</text>
<text transform="translate(39 152.5) scale(1 1.075)" font-size="22.3" text-anchor="end">0</text>
<text transform="translate(39 264.2) scale(1 1.075)" font-size="22.3" text-anchor="end">-2</text>
<text transform="translate(39 375.9) scale(1 1.075)" font-size="22.3" text-anchor="end">-4</text>
<text transform="translate(45 450) scale(1 1.075)" font-size="22.3" text-anchor="middle">-5</text>
<text transform="translate(249 450) scale(1 1.075)" font-size="22.3" text-anchor="middle">0</text>
<text transform="translate(452 450) scale(1 1.075)" font-size="22.3" text-anchor="middle">5</text>
<text transform="translate(58.5 59.5) scale(1 1.075)" font-size="22.3" text-anchor="start">(a)</text>
<path d="M282 158.5L432.8 243.8M211.4 230.6L305 378.6" stroke="#000" stroke-width="4" fill="none"/>
<rect x="212.3" y="159.9" width="68" height="68.9" fill="none" stroke="#000" stroke-width="4"/>
<rect x="304.4" y="243.6" width="128.7" height="135.6" fill="#2857a7" stroke="none" stroke-width="0"/>
<g clip-path="url(#ci)">
<polygon fill="url(#g23)" points="360.9,235.6 360.2,249.7 359.4,261.4 358.3,271.7 357,280.4 355.5,288 353.7,294.9 351.4,301.3 348.6,307.8 345.1,314.2 340.9,321.1 335.7,328.7 329.4,337 321.9,346.5 312.4,357.9 287.1,387.2 304.2,387.2 327.3,360.2 335.7,350 342.7,340.8 348.5,332.9 353.3,325.6 357,319.2 360.2,312.7 362.8,306.3 364.9,299.8 366.6,292.6 368.1,284.2 369.2,275.1 370.2,264.1 371,251.2 371.6,235.6"/>
<polygon fill="url(#g24)" points="361.8,235.6 361.1,249.7 360.2,261.4 359.2,271.7 358,280.4 356.5,288 354.5,295.3 352.3,301.7 349.5,308.2 346.1,314.6 341.9,321.5 337,328.7 330.7,337 323.2,346.5 313.7,357.9 288.5,387.2 302.8,387.2 325.9,360.2 334.6,349.6 341.7,340.5 347.5,332.5 352.3,325.3 356.1,318.8 359.3,312.3 361.9,305.9 364,299.1 365.8,291.8 367.2,283.9 368.3,274.7 369.3,263.7 370.1,250.8 370.8,235.6"/>
<polygon fill="url(#g25)" points="362.5,235.6 361.8,249.7 360.9,261.8 359.9,272.1 358.6,280.8 357.1,288.4 355.2,295.6 353,302.1 350.2,308.6 346.8,315 342.6,321.8 337.7,329.1 331.5,337.4 323.9,346.9 314.5,358.3 289.6,387.2 301.7,387.2 325.2,359.8 333.9,349.2 341,340.1 346.8,332.1 351.5,324.9 355.3,318.4 358.5,312 361.1,305.5 363.3,298.7 365.1,291.5 366.5,283.5 367.6,274.4 368.6,263.3 369.4,250.8 370.1,235.6"/>
<polygon fill="url(#g26)" points="363.2,235.6 362.5,250 361.6,262.2 360.6,272.5 359.3,281.2 357.8,288.8 355.9,296 353.7,302.5 350.9,308.9 347.5,315.4 343.4,322.2 338.4,329.4 332.2,337.8 324.7,347.3 315.6,358.3 290.7,387.2 300.6,387.2 324.1,359.8 332.8,349.2 339.9,340.1 345.7,332.1 350.5,324.9 354.6,318 357.8,311.6 360.4,305.1 362.6,298.3 364.4,291.1 365.8,283.1 366.9,274 367.9,263.3 368.7,250.8 369.4,235.6"/>
<polygon fill="url(#g27)" points="363.8,235.6 363.1,250 362.2,262.2 361.2,272.5 360,281.2 358.5,288.8 356.6,296 354.3,302.9 351.5,309.3 348.1,315.8 344,322.6 339.1,329.8 332.8,338.2 325.3,347.7 316.2,358.7 291.6,387.2 299.6,387.2 323.4,359.5 332.2,348.8 339.3,339.7 345.1,331.7 349.9,324.5 353.9,317.7 357.2,311.2 359.8,304.8 362,297.9 363.7,290.7 365.2,282.7 366.4,273.6 367.3,263 368.1,250.4 368.8,235.6"/>
<polygon fill="url(#g28)" points="364.4,235.6 363.7,250 362.8,262.2 361.8,272.5 360.6,281.2 359.1,289.2 357.2,296.4 355,302.9 352.3,309.3 349,315.8 344.8,322.6 339.9,329.8 333.8,338.2 326.3,347.7 317.2,358.7 292.6,387.2 298.7,387.2 322.5,359.5 331.2,348.8 338.4,339.7 344.2,331.7 349,324.5 353.1,317.7 356.4,311.2 359,304.8 361.3,297.9 363.1,290.7 364.5,282.7 365.7,273.6 366.7,263 367.5,250.4 368.2,235.6"/>
<polygon fill="url(#g29)" points="365,235.6 364.3,250 363.5,262.2 362.5,272.5 361.2,281.6 359.7,289.6 357.8,296.8 355.6,303.2 352.9,309.7 349.6,316.1 345.5,323 340.6,330.2 334.4,338.6 327.2,347.7 318.1,358.7 293.6,387.2 297.7,387.2 321.5,359.5 330.6,348.4 337.7,339.3 343.6,331.3 348.4,324.1 352.5,317.3 355.7,310.8 358.4,304.4 360.6,297.9 362.4,290.7 363.9,282.7 365.1,273.6 366.1,263 366.9,250.4 367.6,235.6"/>
<polygon fill="url(#g30)" points="365.6,235.6 364.9,250.4 364.1,262.6 363.1,272.8 361.8,282 360.3,289.9 358.4,297.2 356.2,303.6 353.5,310.1 350.2,316.5 346.1,323.4 341.2,330.6 335,338.9 327.8,348.1 318.7,359.1 294.5,387.2 296.7,387.2 320.9,359.1 330,348.1 337.1,338.9 343,331 347.8,323.7 351.9,316.9 355.1,310.5 357.8,304 359.9,297.5 361.8,290.3 363.3,282.3 364.5,273.2 365.5,262.6 366.3,250.4 367,235.6"/>
<path d="M343 329.4L335.2 340.1L325.2 352.6L312.4 367.8L295.6 387.2" fill="none" stroke="#ee452a" stroke-width="1.1" stroke-dasharray="6 4"/>
<polygon fill="url(#g33)" points="431.2,235.6 409.2,261.4 400.9,271.7 394.2,280.4 388.8,288 384.4,294.9 380.8,301.3 377.8,307.8 375.3,314.2 373.3,321.1 371.6,328.7 370.3,337 369.2,346.5 368.3,357.9 367.5,371.2 366.9,387.2 377.6,387.2 378.3,372.4 379.1,360.2 380,350 381.2,340.8 382.7,332.9 384.5,325.6 386.7,319.2 389.4,312.7 392.7,306.3 396.5,299.8 401.4,292.6 407.5,284.2 414.7,275.1 423.7,264.1 448.3,235.6"/>
<polygon fill="url(#g34)" points="432.6,235.6 410.6,261.4 402.3,271.7 395.5,280.4 390.1,288 385.5,295.3 381.8,301.7 378.7,308.2 376.2,314.6 374.2,321.5 372.6,328.7 371.2,337 370.1,346.5 369.1,357.9 368.4,371.2 367.8,387.2 376.7,387.2 377.4,372.4 378.2,360.2 379.2,349.6 380.4,340.5 381.9,332.5 383.7,325.3 385.8,318.8 388.5,312.3 391.7,305.9 395.8,299.1 400.6,291.8 406.5,283.9 413.7,274.7 422.7,263.7 446.9,235.6"/>
<polygon fill="url(#g35)" points="433.7,235.6 411.3,261.8 403,272.1 396.3,280.8 390.9,288.4 386.2,295.6 382.6,302.1 379.5,308.6 377,315 374.9,321.8 373.3,329.1 371.9,337.4 370.8,346.9 369.8,358.3 369.1,371.6 368.4,387.2 376,387.2 376.7,372.4 377.5,359.8 378.5,349.2 379.7,340.1 381.2,332.1 383,324.9 385.1,318.4 387.8,312 391,305.5 395.1,298.7 399.9,291.5 405.8,283.5 412.9,274.4 421.9,263.3 445.8,235.6"/>
<polygon fill="url(#g36)" points="434.8,235.6 412.1,262.2 403.8,272.5 397.1,281.2 391.6,288.8 387,296 383.3,302.5 380.2,308.9 377.7,315.4 375.6,322.2 374,329.4 372.6,337.8 371.5,347.3 370.5,358.3 369.8,371.6 369.1,387.2 375.3,387.2 376,372.4 376.8,359.8 377.8,349.2 379,340.1 380.4,332.1 382.2,324.9 384.4,318 387,311.6 390.3,305.1 394.3,298.3 399.2,291.1 405,283.1 412.1,274 420.9,263.3 444.7,235.6"/>
<polygon fill="url(#g37)" points="435.7,235.6 413,262.2 404.7,272.5 398,281.2 392.5,288.8 387.8,296 383.9,302.9 380.8,309.3 378.3,315.8 376.2,322.6 374.6,329.8 373.2,338.2 372.1,347.7 371.1,358.7 370.4,371.6 369.7,387.2 374.7,387.2 375.4,372 376.2,359.5 377.2,348.8 378.4,339.7 379.8,331.7 381.6,324.5 383.8,317.7 386.4,311.2 389.7,304.8 393.7,297.9 398.5,290.7 404.4,282.7 411.5,273.6 420.2,263 443.7,235.6"/>
<polygon fill="url(#g38)" points="436.7,235.6 414,262.2 405.6,272.5 398.9,281.2 393.2,289.2 388.4,296.4 384.8,302.9 381.6,309.3 379.1,315.8 377,322.6 375.3,329.8 373.8,338.2 372.7,347.7 371.7,358.7 371,371.6 370.3,387.2 374.1,387.2 374.8,372 375.6,359.5 376.5,348.8 377.7,339.7 379.1,331.7 380.9,324.5 383.1,317.7 385.7,311.2 388.9,304.8 392.9,297.9 397.7,290.7 403.5,282.7 410.6,273.6 419.3,263 442.8,235.6"/>
<polygon fill="url(#g39)" points="437.7,235.6 414.9,262.2 406.6,272.5 399.5,281.6 393.8,289.6 389.1,296.8 385.4,303.2 382.2,309.7 379.7,316.1 377.6,323 375.9,330.2 374.4,338.6 373.3,347.7 372.4,358.7 371.6,371.6 370.9,387.2 373.5,387.2 374.2,372 375,359.5 376,348.4 377.1,339.3 378.5,331.3 380.3,324.1 382.5,317.3 385.1,310.8 388.3,304.4 392,297.9 396.8,290.7 402.6,282.7 409.7,273.6 418.4,263 441.8,235.6"/>
<polygon fill="url(#g40)" points="438.6,235.6 415.6,262.6 407.2,272.8 400.1,282 394.4,289.9 389.7,297.2 386,303.6 382.8,310.1 380.3,316.5 378.2,323.4 376.5,330.6 375,338.9 373.9,348.1 373,359.1 372.2,372 371.5,387.2 372.9,387.2 373.6,372 374.4,359.1 375.4,348.1 376.5,338.9 377.9,331 379.7,323.7 381.8,316.9 384.5,310.5 387.7,304 391.4,297.5 396.2,290.3 401.9,282.3 409,273.2 417.7,262.6 440.8,235.6"/>
<path d="M439.7 235.6L424.3 253.5L412.3 267.9L402.9 279.7L395.7 289.6" fill="none" stroke="#ee452a" stroke-width="1.1" stroke-dasharray="6 4"/>
</g>
<path d="M304.4 271h2.6M304.4 329h2.6M326.2 379.2v-2.6M372.5 379.2v-2.6M418.8 379.2v-2.6" stroke="#1c191a" stroke-width="1" fill="none"/>
<rect x="304.4" y="243.6" width="128.7" height="135.6" fill="none" stroke="#2a2627" stroke-width="1.3"/>
<text transform="translate(306 262.5) scale(1 1.075)" font-size="22.3" text-anchor="start">(b)</text>
<text transform="translate(304.5 276.2) scale(1 1)" font-size="18.67" text-anchor="end">-0.5</text>
<text transform="translate(304.5 332.2) scale(1 1)" font-size="18.67" text-anchor="end">-1.0</text>
<text transform="translate(322 394.4) scale(1 1)" font-size="18.67" text-anchor="middle">-0.5</text>
<text transform="translate(372.7 394.4) scale(1 1)" font-size="18.67" text-anchor="middle">0</text>
<text transform="translate(417 394.4) scale(1 1)" font-size="18.67" text-anchor="middle">0.5</text>
<rect x="475" y="33.8" width="406.3" height="391.2" fill="#2857a7" stroke="none" stroke-width="0"/>
<g clip-path="url(#cc)">
<polygon fill="url(#g42)" points="666.6,27.8 664.6,68.2 662.3,102.9 659.5,133.7 656.3,160.3 654.5,172.4 652.5,184.6 650.3,195.9 648,206.4 645.5,216.9 642.6,227.4 639.6,237.1 636.3,246.8 632.7,256.5 629.1,265.4 624.9,275.1 620.3,284.7 615.4,294.4 610.2,304.1 604.2,314.6 597.9,325.1 583.5,347.8 567,372 547.3,399.5 523.8,431 531.6,431 554.4,400.3 574,372.8 590.4,348.6 604.1,326.8 610.3,316.3 615.7,306.6 620.9,296.9 625.7,287.2 630.3,277.5 634.1,268.6 638,258.9 641.5,249.2 644.7,239.5 647.6,229.8 650.5,219.3 653,208.8 655.4,197.5 657.5,186.2 659.4,174.1 661.2,161.9 664.4,134.5 667.1,103.8 669.4,68.2 671.3,27.8"/>
<polygon fill="url(#g43)" points="667,27.8 665,68.2 662.7,102.9 659.9,133.7 656.7,160.3 655,172.4 652.9,184.6 650.8,195.9 648.5,206.4 645.9,216.9 643.1,227.4 640.1,237.1 636.8,246.8 633.2,256.5 629.6,265.4 625.4,275.1 620.8,284.7 615.9,294.4 610.7,304.1 604.8,314.6 598.5,325.1 584.1,347.8 567.6,372 547.9,399.5 524.4,431 531,431 553.8,400.3 573.4,372.8 589.8,348.6 603.5,326.8 609.7,316.3 615.6,305.8 620.8,296.1 625.6,286.4 630.1,276.7 633.9,267.8 637.8,258.1 641.3,248.4 644.5,238.7 647.4,229 650.2,218.5 652.7,208 654.9,197.5 657,186.2 659,174.1 660.8,161.9 664,134.5 666.7,103.8 669,68.2 670.9,27.8"/>
<polygon fill="url(#g44)" points="667.3,27.8 665.4,68.2 663,102.9 660.3,133.7 657.1,160.3 655.3,172.4 653.3,184.6 651.1,195.9 648.9,206.4 646.3,216.9 643.4,227.4 640.5,237.1 637.2,246.8 633.7,256.5 630.1,265.4 625.8,275.1 621.3,284.7 616.4,294.4 611.2,304.1 605.3,314.6 599,325.1 584.6,347.8 568.1,372 548.4,399.5 524.9,431 530.4,431 553.3,400.3 572.9,372.8 589.3,348.6 603,326.8 609.3,316.3 615.2,305.8 620.3,296.1 625.1,286.4 629.7,276.7 633.5,267.8 637.4,258.1 640.9,248.4 644.1,238.7 647,229 649.8,218.5 652.3,208 654.6,197.5 656.7,186.2 658.7,174.1 660.4,161.9 663.7,134.5 666.4,103.8 668.7,68.2 670.6,27.8"/>
<polygon fill="url(#g45)" points="667.6,27.8 665.6,68.2 663.3,102.9 660.5,133.7 657.4,160.3 655.6,172.4 653.6,184.6 651.4,195.9 649.1,206.4 646.6,216.9 643.7,227.4 640.8,237.1 637.6,246.8 634,256.5 630.4,265.4 626.2,275.1 621.6,284.7 616.8,294.4 611.6,304.1 605.6,314.6 599.4,325.1 585,347.8 568.5,372 548.9,399.5 525.4,431 530,431 552.8,400.3 572.5,372.8 588.9,348.6 602.7,326.8 608.9,316.3 614.8,305.8 619.9,296.1 624.8,286.4 629.3,276.7 633.2,267.8 637,258.1 640.6,248.4 643.8,238.7 646.7,229 649.5,218.5 652,208 654.3,197.5 656.4,186.2 658.4,174.1 660.2,161.9 663.4,134.5 666.1,103.8 668.4,68.2 670.4,27.8"/>
<polygon fill="url(#g46)" points="667.8,27.8 665.9,68.2 663.6,102.9 660.8,133.7 657.5,161.1 655.7,173.2 653.7,185.4 651.5,196.7 649.3,207.2 646.7,217.7 643.8,228.2 640.9,237.9 637.6,247.6 634,257.3 630.4,266.2 626.2,275.9 621.6,285.6 616.7,295.3 611.5,304.9 605.5,315.5 599.3,326 584.9,348.6 568.4,372.8 548.7,400.3 525.8,431 529.6,431 552.4,400.3 572.1,372.8 588.5,348.6 602.3,326.8 608.5,316.3 614.4,305.8 619.6,296.1 624.4,286.4 629,276.7 633.2,267 636.7,258.1 640.2,248.4 643.5,238.7 646.4,229 649.2,218.5 651.7,208 654,197.5 656.1,186.2 658.1,174.1 659.9,161.9 663.1,134.5 665.8,103.8 668.2,68.2 670.1,27.8"/>
<polygon fill="url(#g47)" points="668.1,27.8 666.1,68.2 663.8,102.9 661,133.7 657.8,161.1 656,173.2 653.9,185.4 651.8,196.7 649.5,207.2 647,217.7 644.1,228.2 641.1,237.9 637.9,247.6 634.3,257.3 630.7,266.2 626.5,275.9 621.9,285.6 617,295.3 611.8,304.9 605.9,315.5 599.6,326 585.2,348.6 568.7,372.8 549.1,400.3 526.2,431 529.2,431 552.1,400.3 571.7,372.8 588.1,348.6 601.9,326.8 608.2,316.3 614.1,305.8 619.3,296.1 624.1,286.4 628.7,276.7 632.9,267 636.4,258.1 640,248.4 643.2,238.7 646.1,229 649,218.5 651.5,208 653.7,197.5 655.9,186.2 657.9,174.1 659.6,161.9 662.9,134.5 665.6,103.8 667.9,68.2 669.9,27.8"/>
<polygon fill="url(#g48)" points="668.3,27.8 666.3,68.2 664,102.9 661.3,133.7 658,161.1 656.2,173.2 654.2,185.4 652,196.7 649.8,207.2 647.2,217.7 644.4,228.2 641.4,237.9 638.2,247.6 634.6,257.3 631,266.2 626.8,275.9 622.2,285.6 617.3,295.3 612.2,304.9 606.2,315.5 600,326 585.6,348.6 569.1,372.8 549.4,400.3 526.5,431 528.8,431 551.7,400.3 571.3,372.8 587.8,348.6 601.6,326.8 607.8,316.3 613.8,305.8 618.9,296.1 623.8,286.4 628.3,276.7 632.6,267 636.1,258.1 639.7,248.4 642.9,238.7 645.8,229 648.7,218.5 651.2,208 653.5,197.5 655.6,186.2 657.6,174.1 659.4,161.9 662.7,134.5 665.4,103.8 667.7,68.2 669.7,27.8"/>
<polygon fill="url(#g49)" points="668.5,27.8 666.5,68.2 664.2,102.9 661.5,133.7 658.2,161.1 656.5,173.2 654.4,185.4 652.3,196.7 650,207.2 647.5,217.7 644.6,228.2 641.7,237.9 638.5,247.6 634.9,257.3 631.3,266.2 627.1,275.9 622.5,285.6 617.7,295.3 612.5,304.9 606.5,315.5 600.3,326 585.9,348.6 569.5,372.8 549.8,400.3 526.9,431 528.5,431 551.3,400.3 571,372.8 587.4,348.6 594.7,337.3 601.7,326 608,315.5 613.9,304.9 619,295.3 623.9,285.6 628.4,275.9 632.3,267 636.1,257.3 639.7,247.6 642.9,237.9 645.8,228.2 648.6,217.7 651.1,207.2 653.4,196.7 655.5,185.4 657.5,173.2 659.3,161.1 662.5,133.7 665.2,102.9 667.5,68.2 669.4,27.8"/>
<polygon fill="url(#g50)" points="668.7,27.8 666.8,68.2 664.5,102.9 661.7,133.7 658.5,161.1 656.7,173.2 654.7,185.4 652.5,196.7 650.3,207.2 647.8,217.7 644.9,228.2 642,237.9 638.7,247.6 635.2,257.3 631.6,266.2 627.4,275.9 622.9,285.6 618,295.3 612.8,304.9 606.9,315.5 600.6,326 586.3,348.6 569.8,372.8 550.1,400.3 527.3,431 528.1,431 551,400.3 570.6,372.8 587.1,348.6 594.4,337.3 601.4,326 607.6,315.5 613.6,304.9 618.7,295.3 623.6,285.6 628.1,275.9 632.3,266.2 635.8,257.3 639.4,247.6 642.6,237.9 645.5,228.2 648.4,217.7 650.9,207.2 653.1,196.7 655.3,185.4 657.3,173.2 659,161.1 662.3,133.7 665,102.9 667.3,68.2 669.2,27.8"/>
<path d="M561.1 385.8L545.2 407.6L527.7 431" fill="none" stroke="#f0662c" stroke-width="0.9" stroke-dasharray="1.5 1.5"/>
<polygon fill="url(#g52)" points="885.4,27.8 853.7,68.2 827.2,102.9 804.4,133.7 785.4,160.3 769.1,184.6 755.4,206.4 749.2,216.9 743.4,227.4 738.3,237.1 733.5,246.8 729,256.5 725.2,265.4 721.4,275.1 717.9,284.7 714.8,294.4 711.9,304.1 709.1,314.6 706.7,325.1 704.3,336.5 702.2,347.8 698.6,372 695.5,399.5 692.7,431 697.6,431 700.3,400.3 703.6,372.8 705.3,360.7 707.4,348.6 709.5,337.3 711.8,326.8 714.3,316.3 716.9,306.6 719.9,296.9 723.1,287.2 726.6,277.5 730.2,268.6 734.4,258.9 738.9,249.2 743.8,239.5 748.9,229.8 754.8,219.3 761.1,208.8 768.1,197.5 775.4,186.2 791.8,161.9 811.5,134.5 834.4,103.8 861.6,68.2 893.3,27.8"/>
<polygon fill="url(#g53)" points="886,27.8 854.4,68.2 827.8,102.9 805,133.7 786,160.3 769.7,184.6 756,206.4 749.8,216.9 743.9,227.4 738.8,237.1 734,246.8 729.5,256.5 725.7,265.4 721.9,275.1 718.4,284.7 715.2,294.4 712.4,304.1 709.6,314.6 707.1,325.1 704.8,336.5 702.7,347.8 699,372 695.8,399.5 693.1,431 697.2,431 699.9,400.3 703.1,372.8 704.9,360.7 706.9,348.6 709.1,337.3 711.3,326.8 713.9,316.3 716.7,305.8 719.6,296.1 722.9,286.4 726.4,276.7 730,267.8 734.2,258.1 738.8,248.4 743.6,238.7 748.8,229 754.7,218.5 761,208 774.8,186.2 791.2,161.9 810.9,134.5 833.7,103.8 861,68.2 892.7,27.8"/>
<polygon fill="url(#g54)" points="886.5,27.8 854.9,68.2 828.3,102.9 805.5,133.7 786.5,160.3 770.2,184.6 756.5,206.4 750.3,216.9 744.4,227.4 739.3,237.1 734.5,246.8 730,256.5 726.2,265.4 722.3,275.1 718.8,284.7 715.6,294.4 712.8,304.1 710,314.6 707.5,325.1 705.1,336.5 703,347.8 701.1,359.9 699.4,372 696.2,399.5 693.5,431 696.8,431 699.6,400.3 702.8,372.8 704.6,360.7 706.6,348.6 708.7,337.3 711,326.8 713.5,316.3 716.3,305.8 719.2,296.1 722.5,286.4 726,276.7 729.6,267.8 733.8,258.1 738.3,248.4 743.2,238.7 748.3,229 754.3,218.5 760.5,208 774.3,186.2 790.7,161.9 810.4,134.5 833.2,103.8 860.5,68.2 892.1,27.8"/>
<polygon fill="url(#g55)" points="887,27.8 855.3,68.2 828.7,102.9 806,133.7 787,160.3 770.6,184.6 756.8,206.4 750.6,216.9 744.8,227.4 739.6,237.1 734.8,246.8 730.3,256.5 726.5,265.4 722.6,275.1 719.1,284.7 715.9,294.4 713.1,304.1 710.3,314.6 707.8,325.1 705.4,336.5 703.3,347.8 701.3,359.9 699.6,372 696.4,399.5 693.7,431 696.6,431 699.3,400.3 702.5,372.8 704.3,360.7 706.3,348.6 708.4,337.3 710.7,326.8 713.2,316.3 716,305.8 718.9,296.1 722.1,286.4 725.7,276.7 729.2,267.8 733.4,258.1 738,248.4 742.8,238.7 748,229 753.9,218.5 760.1,208 773.9,186.2 790.3,161.9 809.9,134.5 832.8,103.8 860,68.2 891.7,27.8"/>
<polygon fill="url(#g56)" points="887.4,27.8 855.8,68.2 829.2,102.9 806.4,133.7 786.8,161.1 770.4,185.4 756.7,207.2 750.6,217.7 744.7,228.2 739.6,237.9 734.8,247.6 730.3,257.3 726.5,266.2 722.7,275.9 719.2,285.6 716,295.3 713.1,304.9 710.4,315.5 707.9,326 705.5,337.3 703.5,348.6 699.8,372.8 696.6,400.3 694,431 696.3,431 699,400.3 702.3,372.8 704,360.7 706,348.6 708.1,337.3 710.4,326.8 712.9,316.3 715.7,305.8 718.6,296.1 721.8,286.4 725.4,276.7 729.2,267 733.1,258.1 737.6,248.4 742.4,238.7 747.6,229 753.5,218.5 759.7,208 773.5,186.2 789.9,161.9 809.5,134.5 832.4,103.8 859.6,68.2 891.3,27.8"/>
<polygon fill="url(#g57)" points="887.8,27.8 856.1,68.2 829.5,102.9 806.7,133.7 787.2,161.1 770.8,185.4 757.1,207.2 750.9,217.7 745,228.2 739.9,237.9 735.1,247.6 730.6,257.3 726.8,266.2 723,275.9 719.5,285.6 716.3,295.3 713.4,304.9 710.6,315.5 708.2,326 705.8,337.3 703.7,348.6 701.7,360.7 700,372.8 696.9,400.3 694.2,431 696.1,431 698.8,400.3 702,372.8 703.8,360.7 705.8,348.6 707.9,337.3 710.1,326.8 712.6,316.3 715.4,305.8 718.3,296.1 721.5,286.4 725.1,276.7 728.9,267 732.8,258.1 737.3,248.4 742.1,238.7 747.3,229 753.2,218.5 759.4,208 773.2,186.2 789.5,161.9 809.2,134.5 832,103.8 859.2,68.2 890.9,27.8"/>
<polygon fill="url(#g58)" points="888.2,27.8 856.5,68.2 829.9,102.9 807.1,133.7 787.5,161.1 771.1,185.4 757.4,207.2 751.2,217.7 745.3,228.2 740.2,237.9 735.4,247.6 730.9,257.3 727.1,266.2 723.3,275.9 719.7,285.6 716.6,295.3 713.7,304.9 710.9,315.5 708.4,326 706,337.3 704,348.6 702,360.7 700.3,372.8 697.1,400.3 694.4,431 695.9,431 698.6,400.3 701.8,372.8 703.5,360.7 705.5,348.6 707.6,337.3 709.9,326.8 712.4,316.3 715.2,305.8 718.1,296.1 721.3,286.4 724.8,276.7 728.6,267 732.5,258.1 737,248.4 741.8,238.7 746.9,229 752.8,218.5 759,208 772.8,186.2 789.2,161.9 808.8,134.5 831.6,103.8 858.9,68.2 890.5,27.8"/>
<polygon fill="url(#g59)" points="888.5,27.8 856.9,68.2 830.3,102.9 807.5,133.7 787.9,161.1 771.5,185.4 757.8,207.2 751.6,217.7 745.7,228.2 740.5,237.9 735.7,247.6 731.2,257.3 727.4,266.2 723.5,275.9 720,285.6 716.8,295.3 714,304.9 711.2,315.5 708.7,326 706.3,337.3 704.2,348.6 702.2,360.7 700.5,372.8 697.3,400.3 694.7,431 695.6,431 698.3,400.3 701.5,372.8 703.3,360.7 705.3,348.6 707.4,337.3 709.8,326 712.3,315.5 715.1,304.9 718,295.3 721.3,285.6 724.8,275.9 728.3,267 732.5,257.3 737.1,247.6 741.9,237.9 747.1,228.2 753,217.7 759.2,207.2 773,185.4 789.4,161.1 809,133.7 831.9,102.9 858.5,68.2 890.1,27.8"/>
<polygon fill="url(#g60)" points="888.9,27.8 857.3,68.2 830.6,102.9 807.8,133.7 788.2,161.1 771.8,185.4 758.1,207.2 751.9,217.7 746,228.2 740.9,237.9 736,247.6 731.5,257.3 727.7,266.2 723.8,275.9 720.3,285.6 717.1,295.3 714.2,304.9 711.4,315.5 708.9,326 706.5,337.3 704.4,348.6 702.5,360.7 700.8,372.8 697.6,400.3 694.9,431 695.4,431 698.1,400.3 701.3,372.8 703,360.7 705,348.6 707.1,337.3 709.5,326 712,315.5 714.8,304.9 717.8,295.3 721,285.6 724.5,275.9 728.4,266.2 732.2,257.3 736.7,247.6 741.6,237.9 746.7,228.2 752.6,217.7 758.9,207.2 772.6,185.4 789,161.1 808.7,133.7 831.5,102.9 858.1,68.2 889.8,27.8"/>
<path d="M889.3 27.8L861.5 63.4L837.8 94.1L817.2 121.5L798.9 146.6" fill="none" stroke="#f0662c" stroke-width="0.9" stroke-dasharray="1.5 1.5"/>
</g>
<path d="M475 89.9h4.2M475 145.7h7.5M475 201.6h4.2M475 257.4h7.5M475 313.3h4.2M475 369.1h7.5M577.2 425v-4M678.7 425v-7.5M780.2 425v-4" stroke="#1c191a" stroke-width="1.5" fill="none"/>
<rect x="475" y="33.8" width="406.3" height="391.2" fill="none" stroke="#1c191a" stroke-width="1.5"/>
<text transform="translate(483 59.5) scale(1 1.075)" font-size="22.3" text-anchor="start">(c)</text>
<text transform="translate(475 450) scale(1 1.075)" font-size="22.3" text-anchor="middle">-5</text>
<text transform="translate(677.5 450) scale(1 1.075)" font-size="22.3" text-anchor="middle">0</text>
<text transform="translate(881.7 450) scale(1 1.075)" font-size="22.3" text-anchor="middle">5</text>
<rect x="894.5" y="35.6" width="32.5" height="8.1" fill="#fff"/>
<rect x="894.5" y="43.70" width="32.5" height="374.90" fill="#ee302a"/>
<rect x="894.5" y="51.51" width="32.5" height="367.09" fill="#ee362a"/>
<rect x="894.5" y="59.32" width="32.5" height="359.28" fill="#f04628"/>
<rect x="894.5" y="67.13" width="32.5" height="351.47" fill="#f15529"/>
<rect x="894.5" y="74.94" width="32.5" height="343.66" fill="#f2642b"/>
<rect x="894.5" y="82.75" width="32.5" height="335.85" fill="#f3732d"/>
<rect x="894.5" y="90.56" width="32.5" height="328.04" fill="#f4852f"/>
<rect x="894.5" y="98.37" width="32.5" height="320.23" fill="#f49932"/>
<rect x="894.5" y="106.18" width="32.5" height="312.42" fill="#f5ae35"/>
<rect x="894.5" y="113.99" width="32.5" height="304.61" fill="#f4c138"/>
<rect x="894.5" y="121.80" width="32.5" height="296.80" fill="#f1d13f"/>
<rect x="894.5" y="129.61" width="32.5" height="288.99" fill="#eee046"/>
<rect x="894.5" y="137.43" width="32.5" height="281.18" fill="#e6e549"/>
<rect x="894.5" y="145.24" width="32.5" height="273.36" fill="#d7e047"/>
<rect x="894.5" y="153.05" width="32.5" height="265.55" fill="#c8db45"/>
<rect x="894.5" y="160.86" width="32.5" height="257.74" fill="#b7d544"/>
<rect x="894.5" y="168.67" width="32.5" height="249.93" fill="#a4ce43"/>
<rect x="894.5" y="176.48" width="32.5" height="242.12" fill="#91c742"/>
<rect x="894.5" y="184.29" width="32.5" height="234.31" fill="#84c342"/>
<rect x="894.5" y="192.10" width="32.5" height="226.50" fill="#7dc143"/>
<rect x="894.5" y="199.91" width="32.5" height="218.69" fill="#76bf44"/>
<rect x="894.5" y="207.72" width="32.5" height="210.88" fill="#72be44"/>
<rect x="894.5" y="215.53" width="32.5" height="203.07" fill="#70bd45"/>
<rect x="894.5" y="223.34" width="32.5" height="195.26" fill="#6ebd45"/>
<rect x="894.5" y="231.15" width="32.5" height="187.45" fill="#6dbd48"/>
<rect x="894.5" y="238.96" width="32.5" height="179.64" fill="#6dbd4e"/>
<rect x="894.5" y="246.77" width="32.5" height="171.83" fill="#6dbe54"/>
<rect x="894.5" y="254.58" width="32.5" height="164.02" fill="#6dbe5d"/>
<rect x="894.5" y="262.39" width="32.5" height="156.21" fill="#6dbe69"/>
<rect x="894.5" y="270.20" width="32.5" height="148.40" fill="#6dbe75"/>
<rect x="894.5" y="278.01" width="32.5" height="140.59" fill="#6cbe82"/>
<rect x="894.5" y="285.82" width="32.5" height="132.78" fill="#6abf91"/>
<rect x="894.5" y="293.63" width="32.5" height="124.97" fill="#68c0a0"/>
<rect x="894.5" y="301.44" width="32.5" height="117.16" fill="#67c1af"/>
<rect x="894.5" y="309.25" width="32.5" height="109.35" fill="#65c2be"/>
<rect x="894.5" y="317.06" width="32.5" height="101.54" fill="#63c3cd"/>
<rect x="894.5" y="324.88" width="32.5" height="93.73" fill="#54c1d9"/>
<rect x="894.5" y="332.69" width="32.5" height="85.91" fill="#39bbe1"/>
<rect x="894.5" y="340.50" width="32.5" height="78.10" fill="#1eb5e9"/>
<rect x="894.5" y="348.31" width="32.5" height="70.29" fill="#2aa0dd"/>
<rect x="894.5" y="356.12" width="32.5" height="62.48" fill="#358bce"/>
<rect x="894.5" y="363.93" width="32.5" height="54.67" fill="#3478c0"/>
<rect x="894.5" y="371.74" width="32.5" height="46.86" fill="#306ab6"/>
<rect x="894.5" y="379.55" width="32.5" height="39.05" fill="#2c63b1"/>
<rect x="894.5" y="387.36" width="32.5" height="31.24" fill="#2a5cab"/>
<rect x="894.5" y="395.17" width="32.5" height="23.43" fill="#2959a9"/>
<rect x="894.5" y="402.98" width="32.5" height="15.62" fill="#2858a8"/>
<rect x="894.5" y="410.79" width="32.5" height="7.81" fill="#2857a7"/>
<rect x="894.5" y="418.6" width="32.5" height="7.8" fill="#231f20"/>
<rect x="894.5" y="35.6" width="32.5" height="390.8" fill="none" stroke="#3a3a3a" stroke-width="1.2"/>
<text transform="translate(942.5 51.1) scale(1 1.075)" font-size="22.3" text-anchor="start">0.7440</text>
<text transform="translate(942.5 98) scale(1 1.075)" font-size="22.3" text-anchor="start">0.6513</text>
<text transform="translate(942.5 144.8) scale(1 1.075)" font-size="22.3" text-anchor="start">0.5585</text>
<text transform="translate(942.5 191.7) scale(1 1.075)" font-size="22.3" text-anchor="start">0.4658</text>
<text transform="translate(942.5 238.6) scale(1 1.075)" font-size="22.3" text-anchor="start">0.3730</text>
<text transform="translate(942.5 285.4) scale(1 1.075)" font-size="22.3" text-anchor="start">0.2803</text>
<text transform="translate(942.5 332.3) scale(1 1.075)" font-size="22.3" text-anchor="start">0.1875</text>
<text transform="translate(942.5 379.1) scale(1 1.075)" font-size="22.3" text-anchor="start">0.09475</text>
<text transform="translate(942.5 426) scale(1 1.075)" font-size="22.3" text-anchor="start">0.002000</text>
<path d="M927 43.7h7.6M927 90.6h7.6M927 137.4h7.6M927 184.3h7.6M927 231.2h7.6M927 278h7.6M927 324.9h7.6M927 371.7h7.6M927 418.6h7.6" stroke="#1c191a" stroke-width="1.4" fill="none"/>
<text transform="translate(463 15.3) scale(1 1)" font-size="21.88" text-anchor="middle" font-weight="bold">Spectum</text>
<text transform="translate(471.5 473.8) scale(1 1)" font-size="21.88" text-anchor="middle" font-weight="bold">Frequency</text>
<text transform="translate(16.4 229.5) rotate(-90) scale(1 1.075)" font-size="22.3" text-anchor="middle">Detuning</text>
<g clip-path="url(#cd)" fill="none" stroke-linejoin="round">
<path d="M108.7 785.28L115.83 784.68L122.07 783.98L127.41 783.18L132.76 782.11L137.21 780.9L141.67 779.29L145.23 777.56L147.9 775.91L150.58 773.83L153.25 771.18L155.3 768.61L157.3 765.49L159.09 762.07L160.87 757.83L162.43 753.24L163.76 748.47L165.1 742.71L166.21 736.97L168.22 723.76L170.18 705.94L171.78 686.29L173.34 661.38L174.68 634.61L179.13 524.15L179.8 512.39L180.25 506.82L180.69 503.37L180.92 502.5L181.14 502.2L181.36 502.5L181.58 503.37L182.03 506.82L182.65 515.16L183.14 524.15L184.03 544.46L187.11 623.49L189.16 665.34L190.27 683.11L191.38 697.86L192.72 712.25L194.06 723.76L195.84 735.69L197.8 745.54L198.96 750.16L200.07 753.95L201.19 757.22L202.52 760.58L203.86 763.43L205.2 765.87L206.75 768.28L208.49 770.55L210.27 772.49L212.95 774.85L214.73 776.14L217.4 777.75L220.97 779.43L224.53 780.72L228.99 781.96L233.44 782.91L238.79 783.77L245.02 784.52L252.15 785.15L260.17 785.67L279.77 786.44L306.19 786.97L342.72 787.31L393.82 787.5L484.79 787.57L564.89 787.41L614.39 787.07L647.75 786.48L660.23 786.07L670.92 785.54L679.83 784.9L687.85 784.07L694.98 782.99L700.32 781.85L704.78 780.58L709.23 778.85L711.91 777.5L714.58 775.84L717.25 773.74L719.04 772.04L720.82 770.01L722.55 767.63L724.11 765.09L725.45 762.53L726.79 759.52L728.12 755.97L729.46 751.74L730.57 747.58L732.58 738.19L734.36 727.07L735.7 716.38L737.03 703.02L738.37 686.29L739.48 669.16L740.6 648.65L741.71 624.53L745.72 524.15L746.39 512.39L746.83 506.82L747.28 503.37L747.5 502.5L747.73 502.2L747.95 502.5L748.17 503.37L748.62 506.82L749.06 512.39L749.73 524.15L754.18 634.61L755.57 662.19L757.08 686.29L758.86 707.82L760.64 723.76L761.76 731.61L762.87 738.2L763.99 743.75L765.32 749.33L766.66 753.96L768.22 758.41L770 762.54L771.78 765.87L773.79 768.91L776.06 771.67L778.73 774.21L781.4 776.21L784.97 778.27L788.53 779.83L792.1 781.04L796.55 782.21L801.9 783.26L807.24 784.04L813.48 784.73L821.5 785.37" stroke="#9263c6" stroke-width="2.4" stroke-dasharray="0.1 9.3" stroke-linecap="round"/>
<path d="M108.7 787.52L169.33 787.18L209.38 786.63L224.53 786.23L237 785.73L247.7 785.11L256.61 784.34L264.62 783.35L270.86 782.25L276.21 780.95L281.55 779.14L286.01 777.04L289.57 774.76L291.36 773.34L293.14 771.69L295.81 768.63L297.28 766.58L298.62 764.42L301.07 759.54L303.29 753.71L305.3 746.88L307.08 739.04L308.64 730.36L310.2 719.4L311.54 707.66L312.65 695.79L313.76 681.61L315.77 649.04L317.55 611.6L320.45 541.35L321.56 519.16L322.45 507.64L322.9 504.6L323.12 503.83L323.34 503.57L323.56 503.83L323.79 504.6L324.46 509.87L325.57 527.2L329.58 621.67L330.69 644.78L331.81 664.7L332.92 681.58L334.12 696.79L335.37 709.76L336.8 721.77L338.58 733.52L340.49 743.15L342.72 751.57L344.06 755.57L345.39 758.96L346.73 761.86L348.38 764.88L350.07 767.48L351.94 769.87L353.73 771.78L355.51 773.41L357.29 774.79L359.96 776.53L363.53 778.35L367.09 779.75L371.55 781.1L376 782.13L381.35 783.07L386.69 783.78L392.93 784.41L400.95 784.99L410.62 785.49L421.98 785.88L449.6 786.32L482.56 786.31L510.63 785.81L525.69 785.21L538.16 784.34L548.85 783.09L553.31 782.34L556.87 781.59L560.44 780.66L564 779.5L566.67 778.43L569.35 777.13L572.02 775.53L573.8 774.26L576.48 771.96L578.26 770.08L580.04 767.85L581.42 765.82L582.76 763.56L584.09 760.94L585.39 758L586.54 754.95L588.55 748.5L590.33 741.14L592.11 731.68L593.67 721.1L595.01 709.76L596.97 688.13L598.79 660.97L600.8 621.67L604.81 527.2L605.92 509.87L606.59 504.6L606.81 503.83L607.04 503.57L607.26 503.83L607.48 504.6L607.93 507.64L608.82 519.16L609.93 541.35L612.83 611.6L614.61 649.04L616.61 681.61L617.73 695.79L618.84 707.66L620.18 719.4L621.74 730.36L623.3 739.04L625.08 746.88L627.08 753.71L629.31 759.54L631.72 764.34L634.39 768.4L637.06 771.51L638.85 773.19L640.63 774.63L644.19 776.94L648.65 779.07L653.99 780.9L659.34 782.21L665.58 783.32L673.59 784.33L682.5 785.09L693.2 785.73L705.67 786.22L720.82 786.62L760.87 787.18L821.5 787.52" stroke="#2e6bb7" stroke-width="2.25"/>
<path d="M108.7 787.57L204.08 787.26L267.3 786.74L291.36 786.36L310.87 785.9L327.35 785.32L341.38 784.61L353.73 783.69L363.53 782.64L372.44 781.29L379.56 779.78L383.13 778.81L386.69 777.65L392.04 775.41L396.49 772.92L399.17 771.02L400.95 769.55L402.73 767.87L404.51 765.94L406.29 763.7L408.08 761.1L409.86 758.06L411.28 755.22L412.84 751.64L414.18 748.07L416.63 740.04L418.77 730.93L420.64 720.78L422.42 708.59L423.76 697.37L425.01 684.94L426.21 670.82L427.32 655.62L428.57 635.9L429.77 614.14L433.34 539.66L434.67 514.83L435.34 505.18L436.01 498.14L436.59 494.47L436.9 493.51L437.12 493.27L437.35 493.41L437.57 493.92L438.24 497.62L438.9 504.35L439.57 513.68L440.91 537.88L444.03 602.11L445.5 628.77L447.59 659.78L449.6 682.31L450.93 694.1L452.27 703.77L453.61 711.69L455.17 719.1L456.72 724.88L458.51 729.87L460.29 733.39L461.18 734.65L462.07 735.56L462.63 735.91L463.1 736L463.47 735.85L463.79 735.42L464.21 733.67L464.48 730.37L464.79 716.47L465.1 675.36L465.57 726L465.9 732.99L466.17 734.79L466.55 735.81L467.1 736.22L467.86 736.05L468.75 735.36L469.87 734L471.65 730.75L473.43 726.08L474.99 720.63L476.55 713.62L477.89 706.12L479.22 696.93L480.34 687.75L481.45 676.94L482.56 664.27L483.68 649.5L485.9 613.11L489.47 541.58L490.81 517.78L491.47 508.6L492.14 501.98L492.72 498.64L493.03 497.84L493.26 497.71L493.48 497.95L493.7 498.55L494.37 502.51L495.04 509.45L495.71 518.94L497.04 543.39L500.61 616.71L501.94 640.36L503.06 657.55L504.17 672.52L505.28 685.46L506.62 698.66L507.96 709.7L509.74 721.71L511.74 732.34L513.75 740.68L516.2 748.59L517.54 752.1L518.87 755.17L520.34 758.1L522.12 761.16L523.91 763.76L525.69 765.99L527.47 767.92L529.25 769.6L531.03 771.08L533.71 772.97L538.16 775.46L543.51 777.68L547.07 778.84L550.64 779.81L557.76 781.32L566.67 782.66L576.48 783.71L588.77 784.62L602.8 785.33L619.29 785.9L638.85 786.36L662.9 786.74L726.12 787.26L821.5 787.57" stroke="#3fa565" stroke-width="2.3" stroke-dasharray="8.6 8.8"/>
</g>
<path d="M153.3 791.1v-3.5M197.8 791.1v-8M242.4 791.1v-3.5M286.9 791.1v-8M331.5 791.1v-3.5M376 791.1v-8M420.6 791.1v-3.5M465.1 791.1v-8M509.7 791.1v-3.5M554.2 791.1v-8M598.8 791.1v-3.5M643.3 791.1v-8M687.9 791.1v-3.5M732.4 791.1v-8M777 791.1v-3.5" stroke="#1c191a" stroke-width="1.5" fill="none"/>
<rect x="109" y="488" width="712.6" height="303.1" fill="none" stroke="#1c191a" stroke-width="1.6"/>
<text transform="translate(108.6 819.5) scale(1 1)" font-size="25.51" text-anchor="middle" class="big">-4</text>
<text transform="translate(197.7 819.5) scale(1 1)" font-size="25.51" text-anchor="middle" class="big">-3</text>
<text transform="translate(286.8 819.5) scale(1 1)" font-size="25.51" text-anchor="middle" class="big">-2</text>
<text transform="translate(375.9 819.5) scale(1 1)" font-size="25.51" text-anchor="middle" class="big">-1</text>
<text transform="translate(465.1 819.5) scale(1 1)" font-size="25.51" text-anchor="middle" class="big">0</text>
<text transform="translate(553.8 819.5) scale(1 1)" font-size="25.51" text-anchor="middle" class="big">1</text>
<text transform="translate(642.9 819.5) scale(1 1)" font-size="25.51" text-anchor="middle" class="big">2</text>
<text transform="translate(732 819.5) scale(1 1)" font-size="25.51" text-anchor="middle" class="big">3</text>
<text transform="translate(821.1 819.5) scale(1 1)" font-size="25.51" text-anchor="middle" class="big">4</text>
<text transform="translate(98.8 495.8) scale(1 1)" font-size="26.55" text-anchor="end" class="big">0.4</text>
<text transform="translate(98.8 797.8) scale(1 1)" font-size="26.55" text-anchor="end" class="big">0.0</text>
<text transform="translate(120 520) scale(1 1.075)" font-size="22.3" text-anchor="start">(d)</text>
<text transform="translate(71.4 647) rotate(-90) scale(1 1.075)" class="big" font-size="26.44" text-anchor="middle"><tspan font-style="italic">S</tspan>(ω)</text>
<text transform="translate(440.5 849.2)" class="big" font-size="27.3">ω/g<tspan font-size="18.6" dy="6.6">ab</tspan></text>
<path d="M820.5 504.5H884" stroke="#3fa565" stroke-width="2.1" stroke-dasharray="8.8 7" fill="none"/>
<path d="M820.5 539.8H884" stroke="#2e6bb7" stroke-width="2.25" fill="none"/>
<path d="M821.5 574.9H884" stroke="#9263c6" stroke-width="2.4" stroke-dasharray="0.1 10.4" stroke-linecap="round" fill="none"/>
<text transform="translate(889.5 513.3) scale(1 1.075)" class="big" letter-spacing="1.35" font-size="24.16">φ=2×10<tspan font-size="16.8" dy="-9">-6</tspan></text>
<text transform="translate(889.5 548.6) scale(1 1.075)" class="big" letter-spacing="1.35" font-size="24.16">φ=1×10<tspan font-size="16.8" dy="-9">-5</tspan></text>
<text transform="translate(889.5 583.7) scale(1 1.075)" class="big" letter-spacing="1.35" font-size="24.16">φ=2×10<tspan font-size="16.8" dy="-9">-5</tspan></text>
</svg>
</body></html>
